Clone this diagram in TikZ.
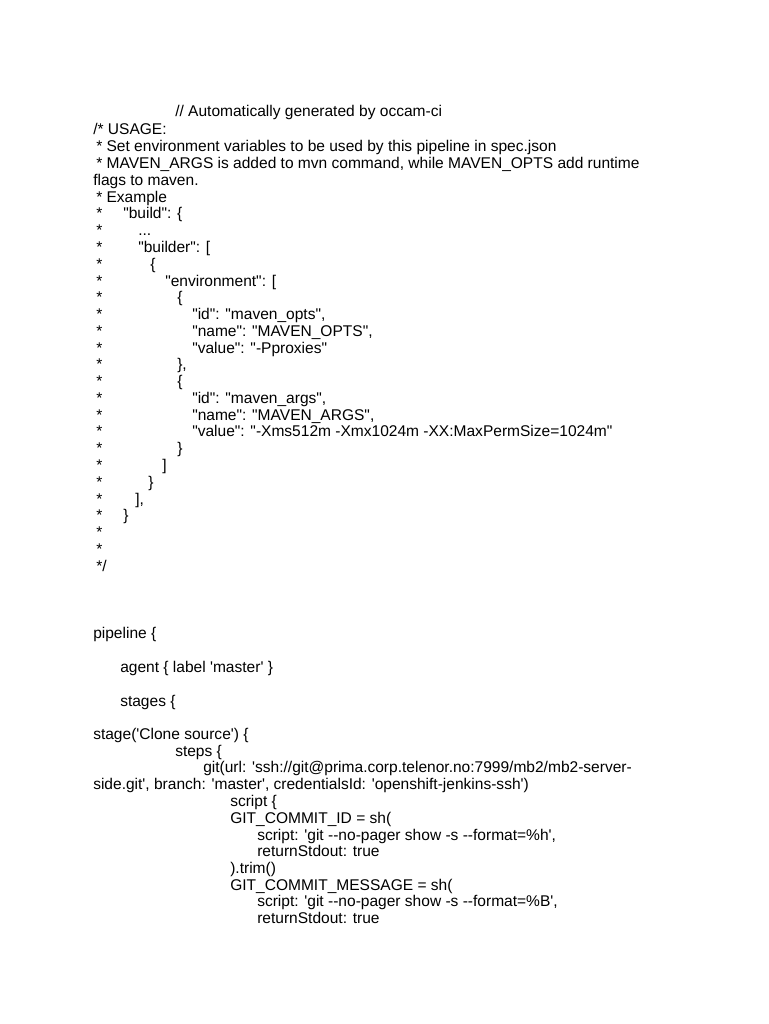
\documentclass[tikz,border=0pt]{standalone}
\usepackage{fontspec}
\setmainfont{Liberation Sans}[Ligatures=TeXOff]
\begin{document}
\begin{tikzpicture}[x=0.75pt,y=-0.75pt,
  ln/.style={anchor=base west,inner sep=0pt,font=\fontsize{11.65}{13}\selectfont}]
\useasboundingbox[fill=white] (0,0) rectangle (768,1024);
\newcount\lc \lc=0
\def\L#1#2#3{\global\advance\lc by 1 \node[ln] (t\the\lc) at (#1,#2+5) {#3};}
\L{175}{112}{// Automatically generated by occam-ci}
\L{93}{129}{/* USAGE:}
\L{96}{146}{* Set environment variables to be used by this pipeline in spec.json}
\L{96}{163}{* MAVEN\_ARGS is added to mvn command, while MAVEN\_OPTS add runtime}
\L{93}{180}{flags to maven.}
\L{96}{197}{* Example}
\foreach \yy in {213,230,247,264,281,297,314,331,348,364,381,398,415,431,448,465,482,499,515,532,549}{\L{96}{\yy}{*}}
\L{123}{213}{"build": \{}
\L{138}{230}{...}
\L{138}{247}{"builder": [}
\L{150}{264}{\{}
\L{165}{281}{"environment": [}
\L{177}{297}{\{}
\L{192}{314}{"id": "maven\_opts",}
\L{192}{331}{"name": "MAVEN\_OPTS",}
\L{192}{348}{"value": "-Pproxies"}
\L{177}{364}{\},}
\L{177}{381}{\{}
\L{192}{398}{"id": "maven\_args",}
\L{192}{415}{"name": "MAVEN\_ARGS",}
\L{192}{431}{"value": "-Xms512m -Xmx1024m -XX:MaxPermSize=1024m"}
\L{177}{448}{\}}
\L{162}{465}{]}
\L{148}{482}{\}}
\L{135}{499}{],}
\L{123}{515}{\}}
\L{96}{566}{*/}
\L{93}{633}{pipeline \{}
\L{120}{667}{agent \{ label 'master' \}}
\L{120}{701}{stages \{}
\L{93}{734}{stage('Clone source') \{}
\L{175}{751}{steps \{}
\L{203}{767}{git(url: 'ssh://git@prima.corp.telenor.no:7999/mb2/mb2-server-}
\L{93}{784}{side.git', branch: 'master', credentialsId: 'openshift-jenkins-ssh')}
\L{230}{801}{script \{}
\L{230}{818}{GIT\_COMMIT\_ID = sh(}
\L{257}{835}{script: 'git --no-pager show -s --format=\%h',}
\L{257}{851}{returnStdout: true}
\L{230}{868}{).trim()}
\L{230}{885}{GIT\_COMMIT\_MESSAGE = sh(}
\L{257}{901}{script: 'git --no-pager show -s --format=\%B',}
\L{257}{918}{returnStdout: true}
\end{tikzpicture}
\end{document}
